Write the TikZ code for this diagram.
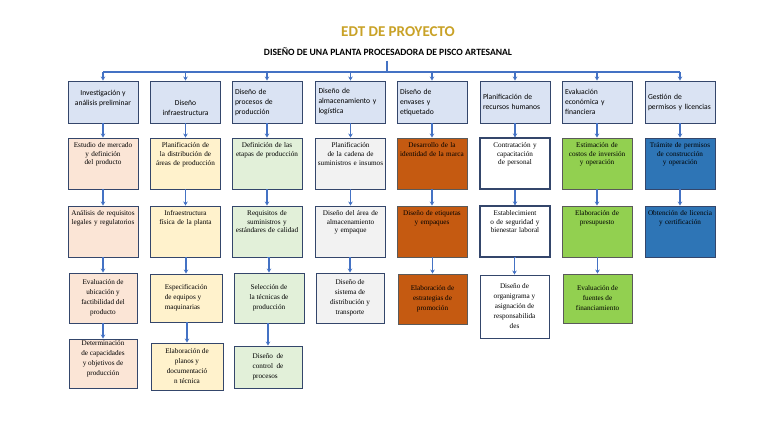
\documentclass[tikz,border=0pt]{standalone}
\usepackage{fontspec}
\setmainfont{Liberation Serif}
\newfontfamily\hdrfont{Carlito}
\usetikzlibrary{arrows.meta}
\definecolor{gold}{HTML}{C9A227}
\definecolor{conn}{HTML}{4472C4}
\definecolor{hdrfill}{HTML}{DAE3F3}
\definecolor{navy}{HTML}{34466B}
\definecolor{cpeach}{HTML}{FBE5D6}
\definecolor{cyellow}{HTML}{FFF2CC}
\definecolor{cgreen}{HTML}{E2F0D9}
\definecolor{cgray}{HTML}{F2F2F2}
\definecolor{corange}{HTML}{C55A11}
\definecolor{clime}{HTML}{92D050}
\definecolor{cblue}{HTML}{2E75B6}
\definecolor{bgray}{HTML}{5A5A5A}
\begin{document}
\hyphenpenalty=10000\relax
\exhyphenpenalty=10000\relax
\begin{tikzpicture}[x=1pt,y=-1pt,
  box/.style={draw=navy,line width=0.9pt,inner sep=0pt,minimum width=70pt},
  hbox/.style={box,fill=hdrfill,minimum height=42pt},
  rbox/.style={box,minimum height=51pt},
  link/.style={draw=conn,line width=1.2pt},
  arr/.style={link,-{Stealth[length=4pt,width=4.5pt]}},
  htxt/.style={font=\hdrfont\fontsize{7.6}{10}\selectfont,inner sep=0pt,text width=64pt,align=left},
  hctr/.style={font=\hdrfont\fontsize{7.6}{10}\selectfont,inner sep=0pt,align=center},
  wtxt/.style={font=\fontsize{7.2}{8.6}\selectfont,inner sep=0pt,text width=66pt,align=center,anchor=north},
  btxt/.style={font=\fontsize{7.2}{10}\selectfont,inner sep=0pt,align=center}]
\useasboundingbox (0,0) rectangle (768,433);
\fill[white] (0,0) rectangle (768,433);

% titles
\node[font=\hdrfont\bfseries\fontsize{15}{18}\selectfont,text=gold,inner sep=0pt] (title) at (398,32) {EDT DE PROYECTO};
\node[font=\hdrfont\bfseries\fontsize{9.6}{12}\selectfont,inner sep=0pt] (sub) at (388,52) {DISEÑO DE UNA PLANTA PROCESADORA DE PISCO ARTESANAL};

% header boxes
\node[hbox] (h1) at (103,102) {};
\node[hbox] (h2) at (185.5,102) {};
\node[hbox] (h3) at (267,102) {};
\node[hbox] (h4) at (350.5,102) {};
\node[hbox] (h5) at (432,102) {};
\node[hbox] (h6) at (515,102) {};
\node[hbox] (h7) at (597,102) {};
\node[hbox] (h8) at (680,102) {};

% row 2
\node[rbox,fill=cpeach] (a1) at (103,163.5) {};
\node[rbox,fill=cyellow] (a2) at (185.5,163.5) {};
\node[rbox,fill=cgreen] (a3) at (267,163.5) {};
\node[rbox,fill=cgray] (a4) at (350.5,163.5) {};
\node[rbox,fill=corange,draw=bgray] (a5) at (432,163.5) {};
\node[rbox,fill=white,line width=1.2pt] (a6) at (515,163.5) {};
\node[rbox,fill=clime,draw=bgray] (a7) at (597,163.5) {};
\node[rbox,fill=cblue] (a8) at (680,163.5) {};

% row 3
\node[rbox,fill=cpeach] (b1) at (103,231.5) {};
\node[rbox,fill=cyellow] (b2) at (185.5,231.5) {};
\node[rbox,fill=cgreen] (b3) at (267,231.5) {};
\node[rbox,fill=cgray] (b4) at (350.5,231.5) {};
\node[rbox,fill=corange,draw=bgray] (b5) at (432,231.5) {};
\node[rbox,fill=white,line width=1.2pt] (b6) at (515,231.5) {};
\node[rbox,fill=clime,draw=bgray] (b7) at (597,231.5) {};
\node[rbox,fill=cblue] (b8) at (680,231.5) {};

% row 4
\node[box,fill=cpeach,minimum height=50pt,minimum width=68pt] (c1) at (103,298) {};
\node[box,fill=cyellow,minimum height=48pt,minimum width=72pt] (c2) at (186,298) {};
\node[box,fill=cgreen,minimum height=50pt] (c3) at (269,298) {};
\node[box,fill=cgray,minimum height=50pt,minimum width=68pt] (c4) at (350,298) {};
\node[box,fill=corange,draw=bgray,minimum height=50pt,minimum width=69pt] (c5) at (432.5,299) {};
\node[box,fill=white,minimum height=63pt,minimum width=69pt] (c6) at (514.5,306.5) {};
\node[box,fill=clime,draw=bgray,minimum height=49pt,minimum width=69pt] (c7) at (597.5,298.5) {};

% row 5
\node[box,fill=cpeach,minimum height=49pt,minimum width=68pt] (d1) at (103,363.5) {};
\node[box,fill=cyellow,minimum height=47pt,minimum width=72pt] (d2) at (187,366.5) {};
\node[box,fill=cgreen,minimum height=42pt,minimum width=68pt] (d3) at (268,367) {};

% connectors from title
\coordinate (t0) at (387,61);
\coordinate (t1) at (387,72);
\draw[link] (t0) -- (t1);
\draw[link] (h1.north |- t1) -- (h8.north |- t1);
\foreach \h in {h1,h2,h3,h4,h5,h6,h7,h8} \draw[arr] (\h.north |- t1) -- (\h.north);
\foreach \u/\v in {h1/a1,h2/a2,h3/a3,h4/a4,h5/a5,h6/a6,h7/a7,h8/a8,
                   a1/b1,a2/b2,a3/b3,a4/b4,a5/b5,a6/b6,a7/b7,a8/b8}
  \draw[arr] (\u.south) -- (\v.north);
\foreach \u/\v in {b1/c1,b2/c2,b3/c3,b4/c4,b5/c5,b6/c6,b7/c7,c1/d1,c2/d2,c3/d3}
  \draw[arr] (\u.south) -- (\u.south -| \v.north) -- (\v.north);

% header texts
\node[hctr] (ht1) at (103,98) {Investigación y\\análisis preliminar};
\node[hctr] (ht2) at (185.5,108) {Diseño\\infraestructura};
\node[htxt] (ht3) at (h3) {Diseño de\\procesos de producción};
\node[htxt] (ht4) at (h4) {Diseño de\\almacenamiento y logística};
\node[htxt] (ht5) at (h5) {Diseño de\\envases y etiquetado};
\node[htxt] (ht6) at (h6) {Planificación de\\recursos humanos};
\node[htxt] (ht7) at (h7) {Evaluación\\económica y financiera};
\node[htxt] (ht8) at (h8) {Gestión de\\permisos y licencias};

% row 2 texts
\node[wtxt] (at1) at ([yshift=-5pt]a1.north) {Estudio de mercado y definición del producto};
\node[wtxt] (at2) at ([yshift=-5pt]a2.north) {Planificación de la distribución de áreas de producción};
\node[wtxt] (at3) at ([yshift=-5pt]a3.north) {Definición de las etapas de producción};
\node[wtxt] (at4) at ([yshift=-5pt]a4.north) {Planificación de la cadena de suministros e insumos};
\node[wtxt] (at5) at ([yshift=-5pt]a5.north) {Desarrollo de la identidad de la marca};
\node[wtxt] (at6) at ([yshift=-5pt]a6.north) {Contratación y capacitación de personal};
\node[wtxt] (at7) at ([yshift=-5pt]a7.north) {Estimación de costos de inversión y operación};
\node[wtxt] (at8) at ([yshift=-5pt]a8.north) {Trámite de permisos de construcción y operación};

% row 3 texts
\node[wtxt] (bt1) at ([yshift=-5pt]b1.north) {Análisis de requisitos legales y regulatorios};
\node[wtxt] (bt2) at ([yshift=-5pt]b2.north) {Infraestructura física de la planta};
\node[wtxt] (bt3) at ([yshift=-5pt]b3.north) {Requisitos de suministros y estándares de calidad};
\node[wtxt] (bt4) at ([yshift=-5pt]b4.north) {Diseño del área de almacenamiento y empaque};
\node[wtxt] (bt5) at ([yshift=-5pt]b5.north) {Diseño de etiquetas y empaques};
\node[wtxt] (bt6) at ([yshift=-5pt]b6.north) {Establecimient\\o de seguridad y bienestar laboral};
\node[wtxt] (bt7) at ([yshift=-5pt]b7.north) {Elaboración de presupuesto};
\node[wtxt] (bt8) at ([yshift=-5pt]b8.north) {Obtención de licencia y certificación};

% row 4 texts
\node[btxt] (ct1) at (c1) {Evaluación de\\ubicación y\\factibilidad del\\producto};
\node[btxt,align=left] (ct2) at (c2) {Especificación\\de equipos y\\maquinarias};
\node[btxt] (ct3) at (c3) {Selección de\\la técnicas de\\producción};
\node[btxt] (ct4) at (c4) {Diseño de\\sistema de\\distribución y\\transporte};
\node[btxt] (ct5) at (c5) {Elaboración de\\estrategias de\\promoción};
\node[btxt] (ct6) at (c6) {Diseño de\\organigrama y\\asignación de\\responsabilida\\des};
\node[btxt] (ct7) at (c7) {Evaluación de\\fuentes de\\financiamiento};

% row 5 texts
\node[btxt] (dt1) at ([yshift=5pt]d1.center) {Determinación\\de capacidades\\y objetivos de\\producción};
\node[btxt] (dt2) at (d2) {Elaboración de\\planos y\\documentació\\n técnica};
\node[btxt,align=left] (dt3) at (d3) {Diseño~~de\\control~~de\\procesos};
\end{tikzpicture}
\end{document}
